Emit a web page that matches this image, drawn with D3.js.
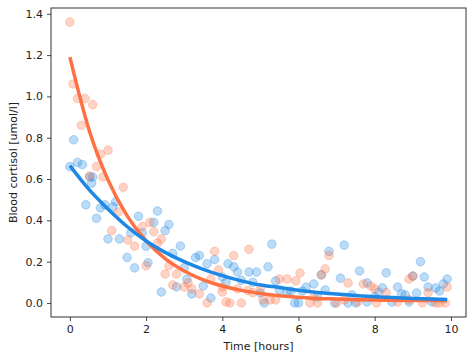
<!DOCTYPE html>
<html>
<head>
    <title>Blood cortisol</title>
    <script src="https://cdnjs.cloudflare.com/ajax/libs/d3/7.8.5/d3.min.js" charset="utf-8"></script>
    <style>
        body { margin: 0; background: white; }
        text { font-family: "DejaVu Sans", sans-serif; }
    </style>
</head>
<body>
<script type="text/javascript">
// data: [hours, umol/l]
var bluePoints = [
    [0,0.66],[0.1,0.79],[0.2,0.68],[0.33,0.67],[0.52,0.61],[0.6,0.61],[0.57,0.58],
    [0.42,0.475],[0.7,0.41],[0.8,0.46],[0.92,0.475],[1.13,0.465],[1.2,0.49],[1.0,0.31],
    [1.3,0.31],[1.5,0.22],[1.7,0.17],[1.8,0.42],[1.6,0.34],[2.0,0.275],[2.05,0.195],
    [2.3,0.445],[2.2,0.39],[2.6,0.38],[2.5,0.35],[1.9,0.34],[2.4,0.053],[2.9,0.276],
    [2.7,0.24],[3.0,0.17],[3.3,0.22],[3.4,0.23],[3.6,0.19],[3.8,0.21],[3.07,0.115],
    [2.8,0.078],[3.2,0.044],[3.5,0.082],[3.7,0.024],[4.0,0.126],[4.15,0.19],[4.3,0.175],
    [4.4,0.15],[4.7,0.15],[4.9,0.15],[5.2,0.175],[5.3,0.285],[4.1,0.1],[4.5,0.11],
    [4.8,0.1],[5.4,0.107],[5.5,0.063],[5.7,0.053],[5.8,0.058],[5.0,0.048],[5.1,0],
    [5.9,0],[6.0,0],[7.2,0.28],[6.8,0.25],[7.6,0.155],[7.1,0.12],[6.6,0.136],[6.4,0.092],
    [6.2,0.077],[6.7,0.063],[7.8,0.097],[6.1,0.058],[6.5,0.029],[7.4,0.039],[6.95,0],
    [7.3,0],[7.5,0],[7.8,0.005],[8.0,0.03],[9.2,0.2],[8.3,0.146],[9.0,0.13],[9.3,0.126],
    [9.9,0.116],[9.8,0.092],[9.4,0.077],[9.6,0.073],[9.7,0.058],[8.2,0.073],[8.6,0.077],
    [8.1,0.053],[8.7,0.044],[8.8,0.039],[9.1,0.048],[8.45,0.005],[8.9,0.005],[9.5,0.005]
];
var orangePoints = [
    [0,1.36],[0.08,1.06],[0.2,0.99],[0.4,0.99],[0.6,0.96],[0.3,0.86],[1.0,0.74],
    [0.8,0.72],[0.7,0.66],[0.52,0.615],[0.87,0.61],[1.4,0.56],[1.27,0.44],[1.1,0.35],
    [1.52,0.305],[1.7,0.275],[1.9,0.37],[2.0,0.18],[2.1,0.39],[2.2,0.345],[2.4,0.31],
    [2.3,0.29],[2.5,0.14],[2.6,0.18],[2.8,0.14],[2.7,0.087],[3.0,0.077],[3.1,0.097],
    [3.2,0.068],[3.4,0.044],[3.6,0.0],[3.8,0.25],[3.9,0.16],[3.7,0.116],[4.0,0.053],
    [4.1,0.005],[4.3,0.23],[4.7,0.26],[4.2,0.0],[4.5,0.0],[4.0,0.077],[4.4,0.068],
    [4.67,0.06],[5.0,0.072],[5.25,0.015],[5.5,0.116],[5.7,0.116],[5.93,0.107],[6.04,0.145],
    [4.8,0.05],[5.07,0.015],[5.4,0.015],[6.3,0],[6.5,0],[7.2,0.015],[7.0,0],[7.55,0.005],
    [6.4,0.03],[6.7,0.165],[6.8,0.23],[6.6,0.136],[7.3,0.097],[7.7,0.092],[7.9,0.082],
    [8.0,0.068],[8.9,0.116],[8.3,0.05],[9.4,0.05],[9.9,0.077],[8.05,0],[8.6,0.005],
    [8.9,0.015],[9.25,0],[9.6,0],[9.7,0],[9.85,0],[9.0,0.13]
];

// fitted curves, read at every half hour
var fitHours = [0,0.5,1,1.5,2,2.5,3,3.5,4,4.5,5,5.5,6,6.5,7,7.5,8,8.5,9,9.5,9.9];
var blueFit = [0.665,0.55,0.455,0.37,0.30,0.245,0.20,0.163,0.132,0.107,0.087,0.075,
               0.062,0.051,0.043,0.036,0.03,0.026,0.022,0.019,0.017];
var orangeFit = [1.19,0.84,0.596,0.423,0.301,0.215,0.155,0.112,0.082,0.061,0.046,0.035,
                 0.028,0.022,0.019,0.016,0.014,0.013,0.012,0.0115,0.011];

var xTicks = [0,2,4,6,8,10];
var yTicks = [0.0,0.2,0.4,0.6,0.8,1.0,1.2,1.4];

var w = 474, h = 361;
var pLeft = 51, pRight = 466, pTop = 8, pBottom = 317;
var blue = "#1e88e5", orange = "#ff7043";

var svg = d3.select("body").append("svg")
    .attr("width", w)
    .attr("height", h);

var x = d3.scaleLinear().domain([-0.495, 10.395]).range([pLeft, pRight]);
var y = d3.scaleLinear().domain([-0.068, 1.428]).range([pBottom, pTop]);

// scatter
function dots(data, col) {
    svg.append("g").selectAll("circle")
        .data(data)
        .enter().append("circle")
        .attr("cx", function(d) { return x(d[0]); })
        .attr("cy", function(d) { return y(d[1]); })
        .attr("r", 4.3)
        .attr("fill", col)
        .attr("fill-opacity", 0.3)
        .attr("stroke", col)
        .attr("stroke-opacity", 0.3)
        .attr("stroke-width", 1);
}
dots(bluePoints, blue);
dots(orangePoints, orange);

// fit lines
var line = d3.line()
    .x(function(d) { return x(d[0]); })
    .y(function(d) { return y(d[1]); })
    .curve(d3.curveMonotoneX);

svg.append("path")
    .datum(d3.zip(fitHours, orangeFit))
    .attr("d", line)
    .attr("fill", "none")
    .attr("stroke", orange)
    .attr("stroke-width", 3.5);
svg.append("path")
    .datum(d3.zip(fitHours, blueFit))
    .attr("d", line)
    .attr("fill", "none")
    .attr("stroke", blue)
    .attr("stroke-width", 3.5);

// axes
var xAxis = svg.append("g")
    .attr("transform", "translate(0," + pBottom + ")")
    .call(d3.axisBottom(x).tickValues(xTicks).tickSize(4).tickPadding(4).tickSizeOuter(0));
var yAxis = svg.append("g")
    .attr("transform", "translate(" + pLeft + ",0)")
    .call(d3.axisLeft(y).tickValues(yTicks).tickFormat(d3.format(".1f")).tickSize(4).tickPadding(4).tickSizeOuter(0));

[xAxis, yAxis].forEach(function(a) {
    a.select(".domain").remove();
    a.selectAll("line").attr("stroke", "#333").attr("stroke-width", 0.9);
    a.selectAll("text").attr("font-size", "11px").attr("fill", "#222")
        .attr("font-family", "DejaVu Sans, sans-serif");
});

// frame
svg.append("rect")
    .attr("x", pLeft)
    .attr("y", pTop)
    .attr("width", pRight - pLeft)
    .attr("height", pBottom - pTop)
    .attr("fill", "none")
    .attr("stroke", "#333")
    .attr("stroke-width", 1);

svg.append("text")
    .text("Time [hours]")
    .attr("x", (pLeft + pRight) / 2)
    .attr("y", 350)
    .attr("text-anchor", "middle")
    .attr("font-size", "11px")
    .attr("fill", "#222");

svg.append("text")
    .text("Blood cortisol [umol/l]")
    .attr("transform", "translate(17," + (pTop + pBottom) / 2 + ") rotate(-90)")
    .attr("text-anchor", "middle")
    .attr("font-size", "11px")
    .attr("fill", "#222");
</script>
</body>
</html>
